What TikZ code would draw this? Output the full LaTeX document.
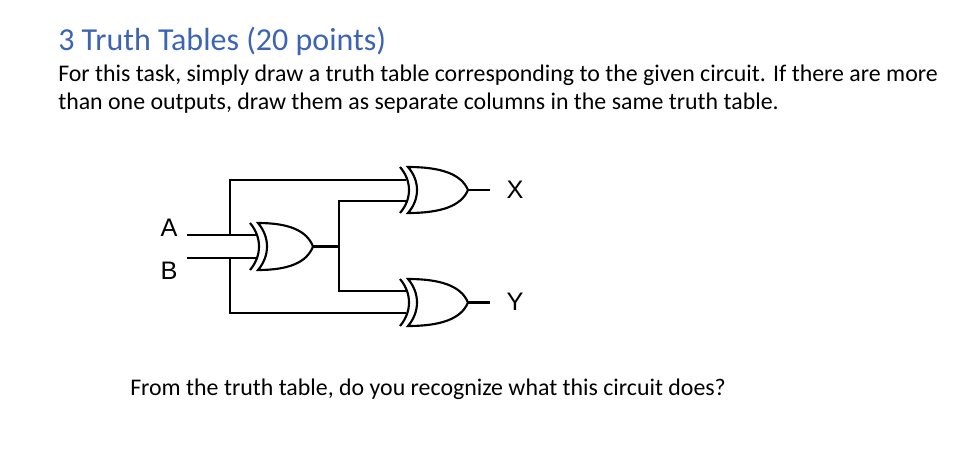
\documentclass[tikz,border=0pt]{standalone}
\usepackage{fontspec}
\setmainfont{Carlito}
\newfontfamily\arialf{Liberation Sans}
\definecolor{ttl}{RGB}{60,100,180}
\newcommand{\xorg}[5]{% name, x0, yt, yb, xt
 \pgfmathsetmacro{\xa}{#2}\pgfmathsetmacro{\ya}{#3}\pgfmathsetmacro{\yb}{#4}\pgfmathsetmacro{\xt}{#5}
 \pgfmathsetmacro{\ym}{(\ya+\yb)/2}\pgfmathsetmacro{\h}{\yb-\ya}\pgfmathsetmacro{\w}{\xt-\xa}
 \draw[gate] (\xa+8,\ya) .. controls (\xa+0.6*\w,\ya) and (\xt-0.1*\w,\ym-0.35*\h) .. (\xt,\ym)
   .. controls (\xt-0.1*\w,\ym+0.35*\h) and (\xa+0.6*\w,\yb) .. (\xa+8,\yb)
   .. controls (\xa+20,\ym+0.2*\h) and (\xa+20,\ym-0.2*\h) .. cycle;
 \draw[gate] (\xa,\ya) .. controls (\xa+12,\ym-0.2*\h) and (\xa+12,\ym+0.2*\h) .. (\xa,\yb);
 \coordinate (#1o) at (\xt,\ym);
}
\begin{document}
\begin{tikzpicture}[x=0.75pt,y=-0.75pt,gate/.style={line width=1.6pt},wire/.style={line width=1.6pt},
  lab/.style={font=\arialf\fontsize{19}{22}\selectfont,inner sep=0}]
\useasboundingbox (0,0) rectangle (976,454);
\node[anchor=base west,inner sep=0,text=ttl,font=\fontsize{24}{28}\selectfont] (title) at (58,50) {3 Truth Tables (20 points)};
\node[anchor=base west,inner sep=0,font=\fontsize{17.9}{21}\selectfont] (l1) at (58,81) {For this task, simply draw a truth table corresponding to the given circuit. If there are more};
\node[anchor=base west,inner sep=0,font=\fontsize{17.9}{21}\selectfont] (l2) at (58,109) {than one outputs, draw them as separate columns in the same truth table.};
\node[anchor=base west,inner sep=0,font=\fontsize{17.9}{21}\selectfont] (q) at (130,395) {From the truth table, do you recognize what this circuit does?};
\xorg{g1}{250}{223}{270}{313}
\xorg{gx}{400}{167}{213}{468}
\xorg{gy}{400}{279}{326}{468}
\node[lab] (A) at (169,228) {A};
\node[lab] (B) at (169,271) {B};
\node[lab] (X) at (515,190) {X};
\node[lab] (Y) at (515,302) {Y};
\coordinate (a0) at (187,235); \coordinate (b0) at (187,258);
\draw[wire] (a0) -- (256,235);
\draw[wire] (b0) -- (256,258);
\draw[wire] (230,235) -- (230,180) -- (406,180);
\draw[wire] (230,258) -- (230,313) -- (406,313);
\draw[wire] (g1o) -- (339,246.5) -- (339,201) -- (406,201);
\draw[wire] (339,246.5) -- (339,291) -- (406,291);
\draw[wire] (gxo) -- (490,190);
\draw[wire] (gyo) -- (490,302.5);
\end{tikzpicture}
\end{document}
